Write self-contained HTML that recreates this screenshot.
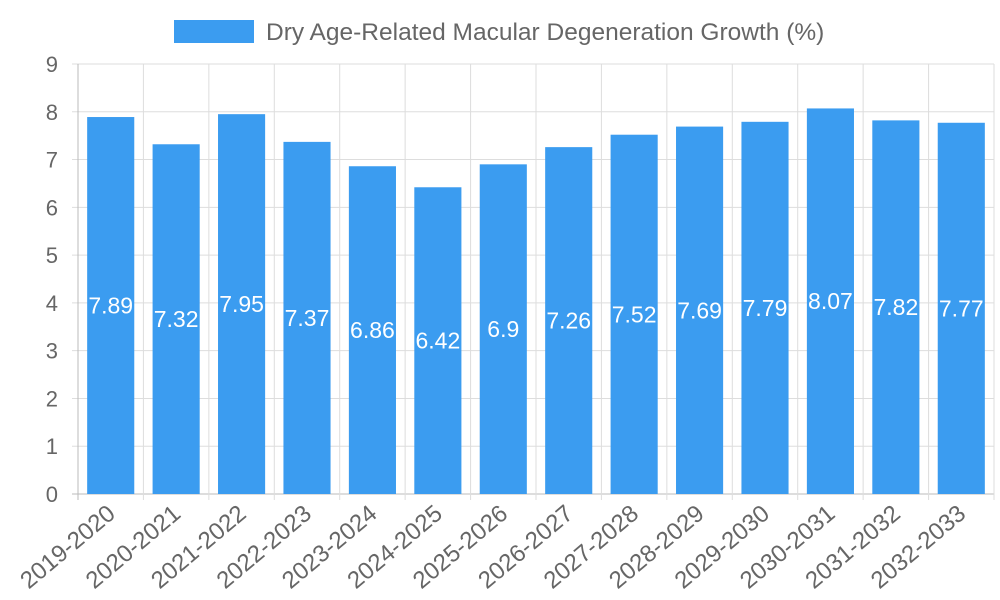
<!DOCTYPE html>
<html><head><meta charset="utf-8"><style>
body{margin:0;background:#fff;}
svg{display:block;font-family:"Liberation Sans",sans-serif;}
</style></head><body>
<svg id="chart" width="1000" height="600">
<g>
<rect x="174" y="20" width="80" height="23" fill="#3b9cf0"></rect>
<text x="266" y="40" font-size="24.5" fill="#666">Dry Age-Related Macular Degeneration Growth (%)</text>
</g>
<g id="grid"></g>
<g id="bars"></g>
<g id="axes"></g>
</svg>
<script>
const categories=["2019-2020","2020-2021","2021-2022","2022-2023","2023-2024","2024-2025","2025-2026","2026-2027","2027-2028","2028-2029","2029-2030","2030-2031","2031-2032","2032-2033"];
const values=[7.89,7.32,7.95,7.37,6.86,6.42,6.9,7.26,7.52,7.69,7.79,8.07,7.82,7.77];
const yTicks=[0,1,2,3,4,5,6,7,8,9];
const NS="http://www.w3.org/2000/svg";
const L=78,R=994,T=64,B=494,yMax=9;
const bw=(R-L)/categories.length;
const y=v=>B-(v/yMax)*(B-T);
const x=i=>L+i*bw;
function mk(tag,attrs,parent,text){const e=document.createElementNS(NS,tag);for(const k in attrs)e.setAttribute(k,attrs[k]);if(text!==undefined)e.textContent=text;parent.appendChild(e);return e;}
const grid=document.getElementById('grid'),bars=document.getElementById('bars'),axes=document.getElementById('axes');
yTicks.forEach(t=>{
  const g=mk('line',{x1:72,x2:R,y1:y(t),y2:y(t),stroke:t===0?'#bbb':'#ddd','stroke-width':1},grid);
  
  
  const lb=mk('text',{x:58,y:y(t)+8,'text-anchor':'end','font-size':22,fill:'#666'},axes,String(t));
  
  
});
for(let i=0;i<=categories.length;i++){
  const g=mk('line',{x1:x(i),x2:x(i),y1:T,y2:B+6,stroke:i===0?'#bbb':'#ddd','stroke-width':1},grid);
  
  
}
categories.forEach((c,i)=>{
  const v=values[i];
  const w=bw*0.72;
  const r=mk('rect',{x:x(i)+(bw-w)/2,y:y(v),width:w,height:B-y(v),fill:'#3b9cf0'},bars);
  
  
  const t=mk('text',{x:x(i)+bw/2,y:(y(v)+B)/2+8,'text-anchor':'middle','font-size':23,fill:'#fff'},bars,String(v));
  
  
  const cx=x(i)+bw/2+6,cy=B+22;
  const xl=mk('text',{x:cx,y:cy,'text-anchor':'end','font-size':24,fill:'#666',transform:`rotate(-40 ${cx} ${cy})`},axes,c);
  
  
});
</script>
</body></html>
